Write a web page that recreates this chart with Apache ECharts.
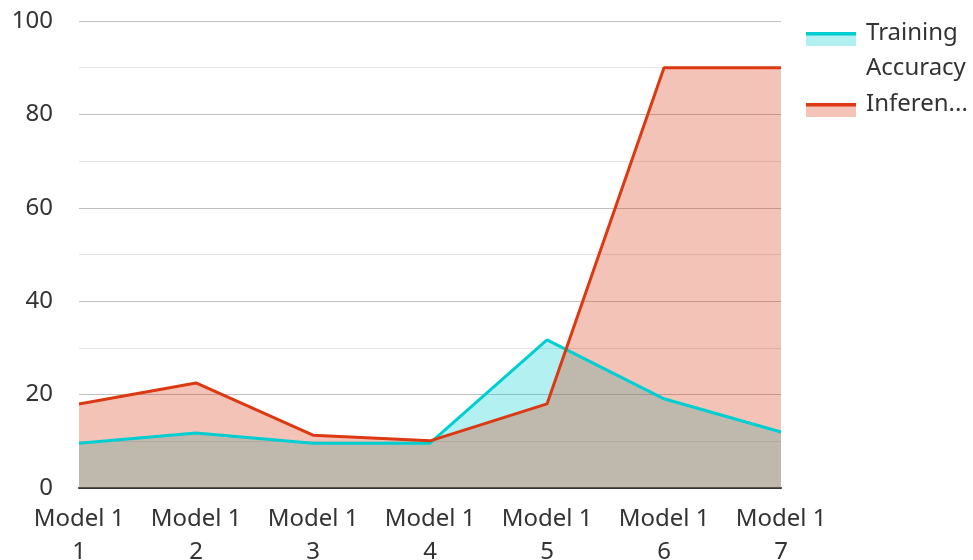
<!DOCTYPE html>
<html>
<head>
<meta charset="utf-8">
<script src="https://cdn.jsdelivr.net/npm/echarts@6/dist/echarts.min.js"></script>
<style>
html,body{margin:0;padding:0;background:#fff;}
#chart{width:973px;height:560px;}
</style>
</head>
<body>
<div id="chart"></div>
<script>
const categories = ['Model 11', 'Model 12', 'Model 13', 'Model 14', 'Model 15', 'Model 16', 'Model 17'];
const trainingAccuracy = [9.6, 11.8, 9.6, 9.6, 31.7, 19.1, 12.0];
const inferenceTime = [18.0, 22.5, 11.3, 10.1, 18.0, 90, 90];
const seriesNames = ['Training Accuracy', 'Inference Time'];
const legendLabels = {
  'Training Accuracy': '{s| }\n{t|Training}\n{t|Accuracy}',
  'Inference Time': '{t|Inferen...}\n{b| }'
};
const yTicks = {min: 0, max: 100, interval: 20};

const cyan = '#00CED1';
const red = '#DC3912';
const cyanFill = 'rgba(0,206,209,0.3)';
const redFill = 'rgba(220,57,18,0.3)';
const FONT = '"Noto Sans", sans-serif';

const chart = echarts.init(document.getElementById('chart'), null, {renderer: 'canvas'});

function makeLegend(isBar) {
  const barPath = 'path://M0,0H50V3.5H0Z M0,13.95H0.05V14H0Z';
  const txtColor = isBar ? 'rgba(0,0,0,0)' : '#333';
  return {
    orient: 'vertical', left: 806, top: -7.5, padding: 0,
    itemWidth: 50, itemHeight: 14, itemGap: 1,
    selectedMode: false,
    formatter: function (n) { return legendLabels[n]; },
    textStyle: {
      color: txtColor, fontSize: 24, fontFamily: FONT, backgroundColor: 'rgba(0,0,0,0)',
      rich: {
        t: {color: txtColor, fontSize: 24, fontFamily: FONT, lineHeight: 35, padding: [0, 0, 0, 5]},
        s: {fontSize: 2, lineHeight: 23},
        b: {fontSize: 2, lineHeight: 12}
      }
    },
    data: [
      {name: seriesNames[0], icon: isBar ? barPath : 'rect',
       itemStyle: {color: isBar ? cyan : cyanFill, borderWidth: 0}},
      {name: seriesNames[1], icon: isBar ? barPath : 'rect',
       itemStyle: {color: isBar ? red : redFill, borderWidth: 0}}
    ]
  };
}

const option = {
  animation: false,
  backgroundColor: '#fff',
  grid: {left: 79, right: 192, top: 21, bottom: 72, containLabel: false, outerBoundsMode: 'none'},
  legend: [makeLegend(false), makeLegend(true)],
  xAxis: {
    type: 'category', data: categories, boundaryGap: false,
    axisLine: {show: true, lineStyle: {color: '#333', width: 2}},
    axisTick: {show: false},
    splitLine: {show: false},
    axisLabel: {
      interval: 0, color: '#333', fontSize: 24, fontFamily: FONT,
      lineHeight: 33, margin: 15, width: 98, overflow: 'breakAll'
    }
  },
  yAxis: {
    type: 'value', min: yTicks.min, max: yTicks.max, interval: yTicks.interval,
    axisLine: {show: false}, axisTick: {show: false},
    axisLabel: {color: '#333', fontSize: 24, fontFamily: FONT, margin: 26},
    splitLine: {show: true, lineStyle: {color: '#bfbfbf', width: 1}},
    minorTick: {show: false, splitNumber: 2},
    minorSplitLine: {show: true, lineStyle: {color: '#e3e3e3', width: 1}}
  },
  series: [
    {name: seriesNames[0], type: 'line', data: trainingAccuracy, z: 1,
     symbol: 'none', lineStyle: {width: 0, color: cyan}, itemStyle: {color: cyan},
     areaStyle: {color: cyanFill, opacity: 1}},
    {name: seriesNames[1], type: 'line', data: inferenceTime, z: 1,
     symbol: 'none', lineStyle: {width: 0, color: red}, itemStyle: {color: red},
     areaStyle: {color: redFill, opacity: 1}},
    {name: seriesNames[0], type: 'line', data: trainingAccuracy, z: 3,
     symbol: 'none', lineStyle: {width: 3, color: cyan}, itemStyle: {color: cyan}},
    {name: seriesNames[1], type: 'line', data: inferenceTime, z: 3,
     symbol: 'none', lineStyle: {width: 3, color: red}, itemStyle: {color: red}}
  ]
};
chart.setOption(option);
</script>
</body>
</html>
